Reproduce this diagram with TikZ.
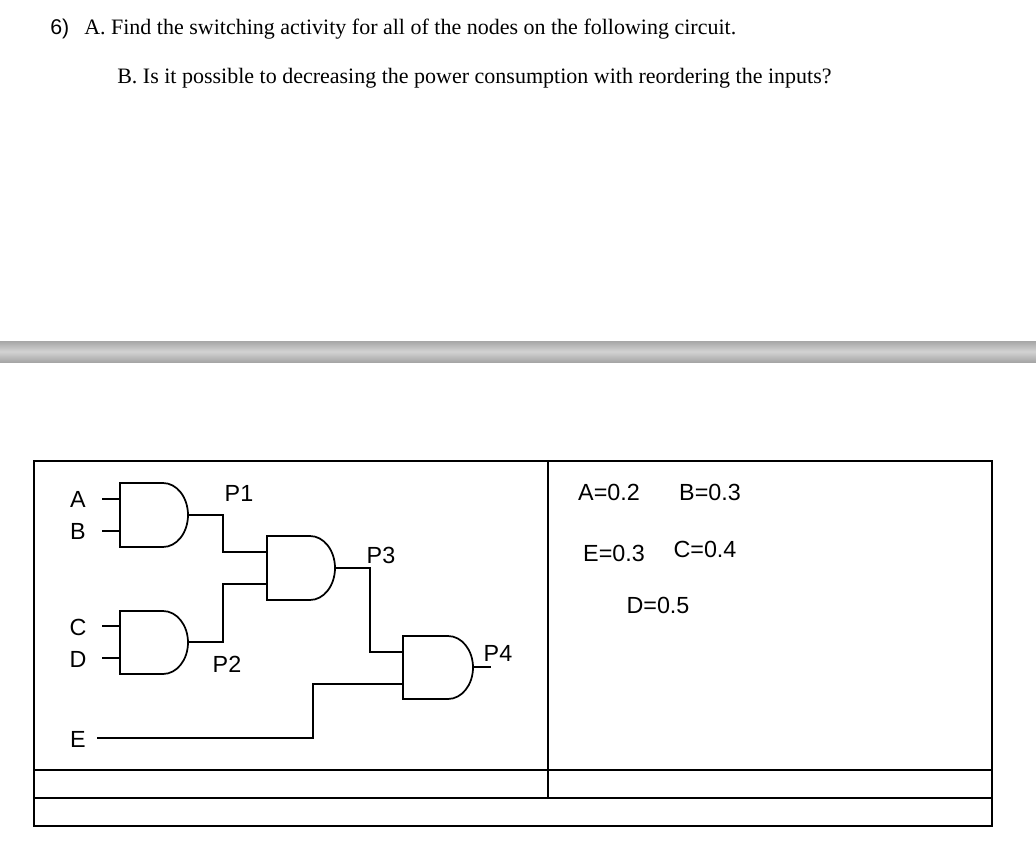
\documentclass[tikz,border=0pt]{standalone}
\usepackage{fontspec}
\setmainfont{Liberation Serif}
\setsansfont{Liberation Sans}
\begin{document}
\begin{tikzpicture}[x=0.75pt,y=-0.75pt,
  wire/.style={line width=1.3pt},
  gate/.style={line width=1.3pt},
  lab/.style={font=\sffamily\fontsize{17.5}{19}\selectfont,inner sep=0pt},
  ttl/.style={font=\fontsize{16.5}{18}\selectfont,inner sep=0pt,anchor=base west}]
\useasboundingbox (0,0) rectangle (1036,845);
\node[ttl,font=\sffamily\fontsize{16}{18}\selectfont] (n6) at (50,35) {6)};
\node[ttl] (ta) at (84,35) {A. Find the switching activity for all of the nodes on the following circuit.};
\node[ttl] (tb) at (117,84) {B. Is it possible to decreasing the power consumption with reordering the inputs?};
% gray bar
\shade[top color=gray!70,bottom color=gray!70,middle color=gray!35] (0,341) rectangle (1036,362);
% table
\draw[line width=0.8pt] (34,461) rectangle (992,826);
\draw[line width=0.8pt] (548,461) -- (548,798);
\draw[line width=0.8pt] (34,770) -- (992,770);
\draw[line width=0.8pt] (34,798) -- (992,798);
% gates
\foreach \nm/\l/\t/\b/\tip in {g1/120/483/547/188, g2/120/611/674/188, g3/267/536/600/335, g4/403/636/699/473}{
  \pgfmathsetmacro{\fl}{\tip-25}
  \pgfmathsetmacro{\ry}{(\b-\t)/2*0.75}
  \draw[gate] (\l,\t) -- (\fl,\t) arc[start angle=90,end angle=-90,x radius=18.75pt,y radius=\ry pt] -- (\l,\b) -- cycle;
}
\coordinate (a) at (102,499); \coordinate (ai) at (120,499);
\coordinate (b) at (102,531); \coordinate (bi) at (120,531);
\coordinate (c) at (102,626); \coordinate (ci) at (120,626);
\coordinate (d) at (102,658); \coordinate (di) at (120,658);
\draw[wire] (a)--(ai); \draw[wire] (b)--(bi); \draw[wire] (c)--(ci); \draw[wire] (d)--(di);
\coordinate (o1) at (188,515); \coordinate (i31) at (267,552);
\coordinate (o2) at (188,642); \coordinate (i32) at (267,584);
\coordinate (o3) at (335,568); \coordinate (i41) at (403,652);
\coordinate (e) at (97,738); \coordinate (i42) at (403,684);
\coordinate (o4) at (473,667); \coordinate (o4e) at (491,667);
\draw[wire] (o1) -| (223,552) -- (i31);
\draw[wire] (o2) -| (223,584) -- (i32);
\draw[wire] (o3) -| (370,652) -- (i41);
\draw[wire] (e) -| (313,684) -- (i42);
\draw[wire] (o4) -- (o4e);
\node[lab] (la) at (78,499) {A};
\node[lab] (lb) at (78,531) {B};
\node[lab] (lc) at (78,627) {C};
\node[lab] (ld) at (78,659) {D};
\node[lab] (le) at (78,739) {E};
\node[lab] (p1) at (239,493) {P1};
\node[lab] (p2) at (227,664) {P2};
\node[lab] (p3) at (381,555) {P3};
\node[lab] (p4) at (498,653) {P4};
\node[lab] (va) at (609,492) {A=0.2};
\node[lab] (vb) at (710,492) {B=0.3};
\node[lab] (ve) at (614,553) {E=0.3};
\node[lab] (vc) at (705,549) {C=0.4};
\node[lab] (vd) at (658,605) {D=0.5};
\end{tikzpicture}
\end{document}
